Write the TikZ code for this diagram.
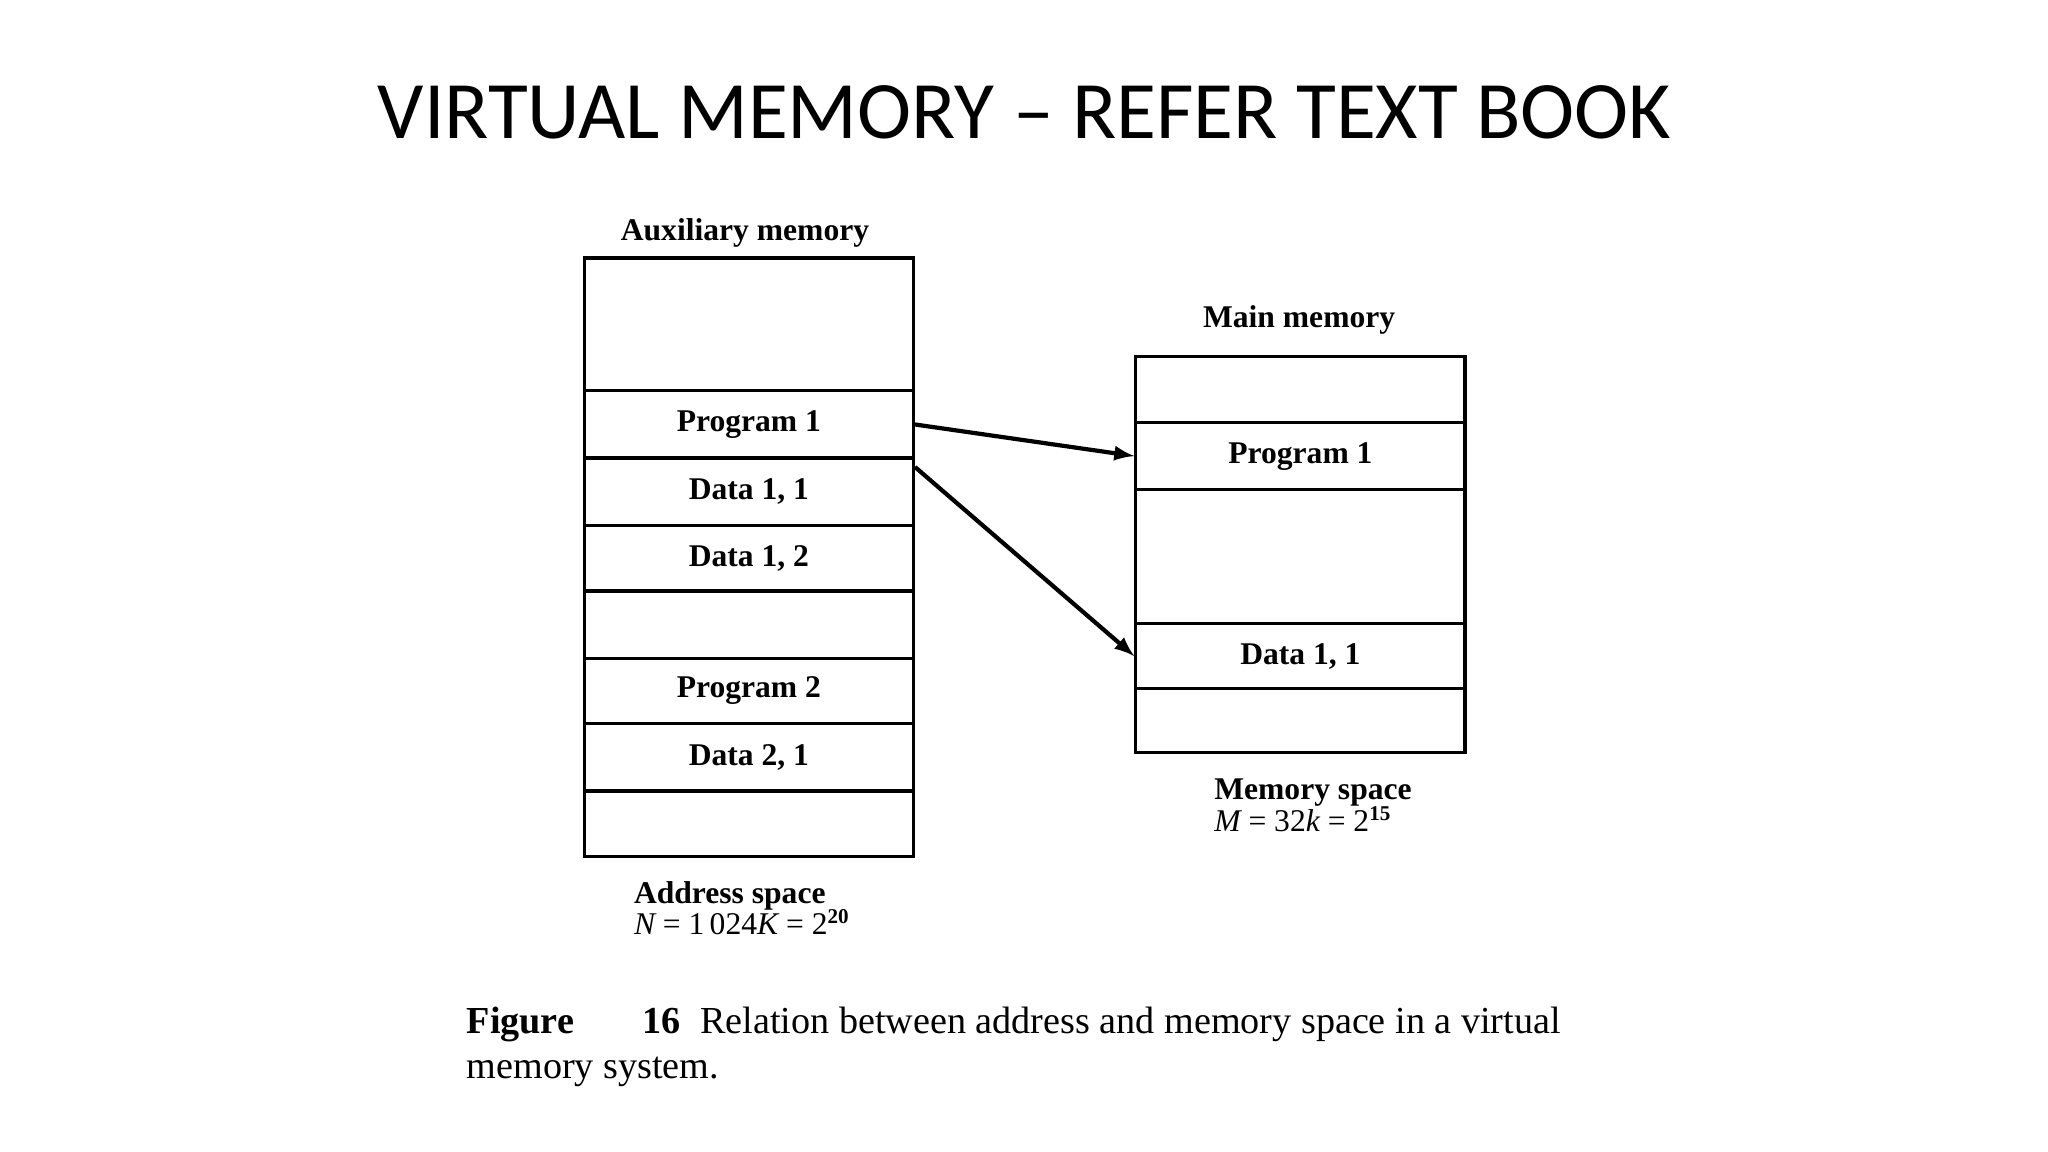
\documentclass[tikz,border=0pt]{standalone}
\usepackage{fontspec}
\setmainfont{Liberation Serif}
\newfontfamily\titlefont{Carlito}
\begin{document}
\begin{tikzpicture}[x=0.4965pt,y=-0.5pt,
  box/.style={draw,line width=1.2pt,minimum width=125pt,inner sep=0pt,font=\fontsize{12}{14}\selectfont\bfseries},
  lbl/.style={font=\fontsize{12}{14}\selectfont\bfseries},
  arr/.style={line width=1.6pt,-latex}]
\useasboundingbox (0,0) rectangle (1567,875);
\node[font=\titlefont\fontsize{31}{36}\selectfont] (title) at (784,85) {VIRTUAL MEMORY – REFER TEXT BOOK};
\node[lbl] (aux) at (570,177) {Auxiliary memory};
\node[box,minimum height=50.5pt] (a0) at (573,246.5) {};
\node[box,minimum height=25.5pt] (a1) at (573,322.5) {Program 1};
\node[box,minimum height=25.5pt] (a2) at (573,373.5) {Data 1, 1};
\node[box,minimum height=25pt] (a3) at (573,424) {Data 1, 2};
\node[box,minimum height=25.5pt] (a4) at (573,474.5) {};
\node[box,minimum height=25pt] (a5) at (573,525) {Program 2};
\node[box,minimum height=25.5pt] (a6) at (573,575.5) {Data 2, 1};
\node[box,minimum height=25pt] (a7) at (573,626) {};
\node[lbl,align=left,anchor=west] (asp) at (478,690) {Address space\\[-2pt]\mdseries\itshape N\upshape\ = 1\,024\itshape K\upshape\ = 2$^{\mathbf{20}}$};
\node[lbl] (main) at (994,243) {Main memory};
\node[box,minimum height=25pt] (m0) at (995,296) {};
\node[box,minimum height=25.5pt] (m1) at (995,346.5) {Program 1};
\node[box,minimum height=51pt] (m2) at (995,423) {};
\node[box,minimum height=24.5pt] (m3) at (995,498.5) {Data 1, 1};
\node[box,minimum height=24.5pt] (m4) at (995,547.5) {};
\node[lbl,align=left,anchor=west] (msp) at (922,612) {Memory space\\[-2pt]\mdseries\itshape M\upshape\ = 32\itshape k\upshape\ = 2$^{\mathbf{15}}$};
\draw[arr] (a1.east) -- (m1.west);
\draw[arr] ([yshift=-4pt]a2.north east) -- (m3.west);
\node[font=\fontsize{14.5}{17}\selectfont,align=left,anchor=north west] (cap) at (350,758)
 {\textbf{Figure}\hspace{1.8em}\textbf{16}\hspace{0.5em}Relation between address and memory space in a virtual\\memory system.};
\end{tikzpicture}
\end{document}
